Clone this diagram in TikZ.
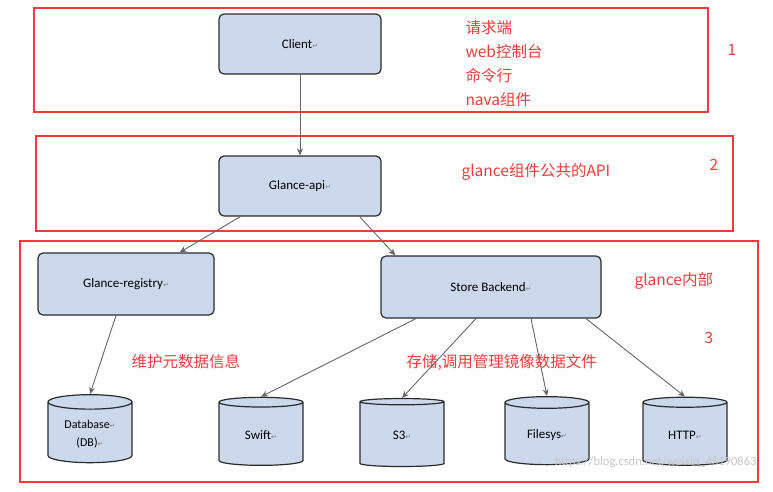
\documentclass[tikz,border=0pt]{standalone}
\usepackage{fontspec}
\setmainfont{Carlito}
\newfontfamily\cjk{Noto Sans CJK SC}
\newfontfamily\dv{DejaVu Sans}
\usetikzlibrary{shapes.geometric,arrows.meta}
\definecolor{boxblue}{HTML}{CCD9EC}
\definecolor{boxline}{HTML}{2B2B2B}
\definecolor{redl}{HTML}{F23A3A}
\begin{document}
\begin{tikzpicture}[x=1pt,y=-1pt,
  comp/.style={draw=boxline,line width=1.2pt,fill=boxblue,rounded corners=5pt,font=\fontsize{13}{15}\selectfont},
  cyl/.style={cylinder,shape border rotate=90,aspect=0.25,draw=boxline,line width=1.2pt,fill=boxblue,font=\fontsize{13}{15}\selectfont,minimum width=84pt,minimum height=68pt},
  red/.style={draw=redl,line width=1.5pt},
  note/.style={text=redl,font=\cjk\fontsize{15.5}{18}\selectfont,anchor=west},
  arr/.style={-{Stealth[length=7pt,width=6pt]},draw=gray!80!black,line width=0.9pt}]
\useasboundingbox (0,0) rectangle (773,491);
\draw[red] (34,8) rectangle (708,112);
\draw[red] (36,136) rectangle (733,231);
\draw[red] (20,241) rectangle (758,482);
\newcommand{\ret}{{\dv\scriptsize\color{gray}↵}}
\node[comp,minimum width=162pt,minimum height=60pt] (client) at (300,44) {Client\ret};
\node[comp,minimum width=162pt,minimum height=60pt] (api) at (300,186) {Glance-api\ret};
\node[comp,minimum width=176pt,minimum height=62pt] (reg) at (126,284) {Glance-registry\ret};
\node[comp,minimum width=220pt,minimum height=62pt] (store) at (491,287) {Store Backend\ret};
\node[cyl,align=center,font=\fontsize{12}{14}\selectfont] (db) at (90,434) {Database\ret\\[4pt](DB)\ret};
\node[cyl] (swift) at (261,435) {Swift\ret};
\node[cyl] (s3) at (402,435) {S3\ret};
\node[cyl] (fs) at (547,435) {Filesys\ret};
\node[cyl] (http) at (685,435) {HTTP\ret};
\draw[arr] (client) -- (api);
\draw[arr] (api.south west)++(22,0) -- ([xshift=-35pt]reg.north east);
\draw[arr] (api.south east)++(-22,0) -- ([xshift=15pt]store.north west);
\draw[arr] (reg.south) ++(-10,0) -- (db.north);
\draw[arr] (store.south) ++(-75,0) -- (swift.north);
\draw[arr] (store.south) ++(-15,0) -- (s3.north);
\draw[arr] (store.south) ++(40,0) -- (fs.north);
\draw[arr] (store.south) ++(95,0) -- (http.north);
\node[note] (n1) at (462,28) {请求端};
\node[note] (n2) at (462,52) {web控制台};
\node[note] (n3) at (462,76) {命令行};
\node[note] (n4) at (462,100) {nava组件};
\node[note] (k1) at (724,50) {1};
\node[note] (n5) at (458,172) {glance组件公共的API};
\node[note] (k2) at (706,165) {2};
\node[note] (n6) at (631,281) {glance内部};
\node[note] (k3) at (701,338) {3};
\node[note] (n7) at (128,362) {维护元数据信息};
\node[note] (n8) at (403,362) {存储,调用管理镜像数据文件};
\node[text=gray!45,font=\fontsize{12.5}{14}\selectfont,anchor=east] (wm) at (760,462) {https://blog.csdn.net/weixin\_48190863};
\end{tikzpicture}
\end{document}
